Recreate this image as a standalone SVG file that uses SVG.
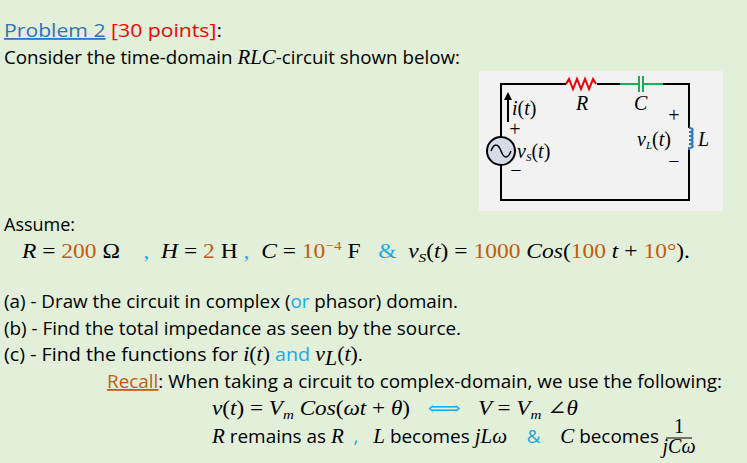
<svg xmlns="http://www.w3.org/2000/svg" width="747" height="463" viewBox="0 0 747 463">
<style>
.t{font-family:"Open Sans","Liberation Sans",sans-serif;font-size:18px;fill:#000}
.m{font-family:"Liberation Serif","DejaVu Serif",serif;font-style:italic;font-size:20px}
.n{font-family:"Liberation Serif","DejaVu Serif",serif;font-size:20px}
.o{fill:#C55A11}.b{fill:#1FA8E8}
.w{fill:none;stroke:#000;stroke-width:2}
</style>
<defs><marker id="ah" viewBox="0 0 10 10" refX="5" refY="5" markerWidth="4" markerHeight="5" orient="auto"><path d="M0,0L10,5L0,10z"/></marker></defs>
<rect width="747" height="463" fill="#E2EFD9"/>
<g id="text">
<text class="t" x="4" y="37" textLength="218" lengthAdjust="spacingAndGlyphs"><tspan fill="#2E75B6" text-decoration="underline">Problem 2</tspan><tspan fill="#FF0000"> [30 points]</tspan>:</text>
<text class="t" x="4" y="64" textLength="456" lengthAdjust="spacingAndGlyphs">Consider the time-domain <tspan class="m" font-size="19">RLC</tspan>-circuit shown below:</text>
<text class="t" x="4" y="231">Assume:</text>
<text class="m" x="22" y="258" textLength="668" lengthAdjust="spacingAndGlyphs">R <tspan font-style="normal">= </tspan><tspan class="o" font-style="normal">200</tspan><tspan font-style="normal"> Ω&#160;&#160;&#160;&#160;</tspan><tspan class="b" font-style="normal">,</tspan>&#160;&#160;H <tspan font-style="normal">= </tspan><tspan class="o" font-style="normal">2</tspan><tspan font-style="normal"> H </tspan><tspan class="b" font-style="normal">,</tspan>&#160;&#160;C <tspan font-style="normal">= </tspan><tspan class="o" font-style="normal">10</tspan><tspan class="o" font-style="normal" font-size="13" dy="-8">−4</tspan><tspan font-style="normal" dy="8"> F&#160;&#160;&#160;</tspan><tspan class="b" font-style="normal">&amp;</tspan>&#160;&#160;v<tspan font-size="13" dy="4">S</tspan><tspan font-style="normal" dy="-4">(</tspan>t<tspan font-style="normal">) = </tspan><tspan class="o" font-style="normal">1000</tspan> Cos<tspan font-style="normal">(</tspan><tspan class="o" font-style="normal">100</tspan> t <tspan font-style="normal">+ </tspan><tspan class="o" font-style="normal">10°</tspan><tspan font-style="normal">).</tspan></text>
<text class="t" x="4" y="308" textLength="454" lengthAdjust="spacingAndGlyphs">(a) - Draw the circuit in complex (<tspan class="b">or</tspan> phasor) domain.</text>
<text class="t" x="4" y="335" textLength="457" lengthAdjust="spacingAndGlyphs">(b) - Find the total impedance as seen by the source.</text>
<text class="t" x="4" y="361" textLength="359" lengthAdjust="spacingAndGlyphs">(c) - Find the functions for <tspan class="m">i</tspan><tspan class="n">(</tspan><tspan class="m">t</tspan><tspan class="n">)</tspan> <tspan class="b">and</tspan> <tspan class="m">v</tspan><tspan class="m" font-size="13" dy="4">L</tspan><tspan class="n" dy="-4">(</tspan><tspan class="m">t</tspan><tspan class="n">)</tspan>.</text>
<text class="t" x="107" y="388" textLength="615" lengthAdjust="spacingAndGlyphs"><tspan class="o" text-decoration="underline">Recall</tspan>: When taking a circuit to complex-domain, we use the following:</text>
<text class="m" x="212" y="415" textLength="366" lengthAdjust="spacingAndGlyphs">v<tspan font-style="normal">(</tspan>t<tspan font-style="normal">) = </tspan>V<tspan font-size="13" dy="4">m</tspan><tspan dy="-4"> Cos</tspan><tspan font-style="normal">(</tspan>ωt <tspan font-style="normal">+ </tspan>θ<tspan font-style="normal">)&#160;&#160;&#160;</tspan><tspan class="b" font-style="normal">⟺</tspan>&#160;&#160;&#160;V <tspan font-style="normal">= </tspan>V<tspan font-size="13" dy="4">m</tspan><tspan font-style="normal" dy="-4"> ∠</tspan>θ</text>
<text class="t" x="212" y="443" textLength="447" lengthAdjust="spacingAndGlyphs"><tspan class="m">R</tspan> remains as <tspan class="m">R</tspan>&#160;&#160;<tspan class="b">,</tspan>&#160;&#160;&#160;<tspan class="m">L</tspan> becomes <tspan class="m">jLω</tspan>&#160;&#160;&#160;&#160;<tspan class="b">&amp;</tspan>&#160;&#160;&#160;&#160;<tspan class="m">C</tspan> becomes</text>
<text class="n" x="679" y="433" font-size="12" text-anchor="middle">1</text>
<line x1="666" y1="438" x2="692" y2="438" stroke="#000" stroke-width="1"/>
<text class="m" x="679" y="453" font-size="12" text-anchor="middle">jCω</text>
</g>
<g id="circuit-bg"><rect x="479" y="71" width="244" height="140" fill="#F2F2F2"/></g>
<g id="connectors">
<path class="w" d="M566,84H501V137M501,165V200H689V150M689,128V84H663M620,84H597"/>
</g>
<g id="resistor"><path d="M566,84l3,-5l4,10l4,-10l4,10l4,-10l4,10l4,-10l3,5" fill="none" stroke="#E00" stroke-width="2"/><text class="m" x="576" y="110" font-size="17">R</text></g>
<g id="capacitor"><path d="M620,84H639M643,84H663M639,76V92M643,76V92" stroke="#1BAE5A" stroke-width="2" fill="none"/><text class="m" x="634" y="110" font-size="17">C</text></g>
<g id="inductor"><path d="M689,128c5,0 5,4 0,4c5,0 5,4 0,4c5,0 5,4 0,4c5,0 5,4 0,4c5,0 5,4 0,4v2" fill="none" stroke="#2E75B6" stroke-width="2"/>
<text class="m" x="698" y="146" font-size="17">L</text>
<text class="n" x="674" y="122" font-size="14" text-anchor="middle">+</text>
<text class="m" x="637" y="146" font-size="17">v<tspan font-size="11" dy="3">L</tspan><tspan font-style="normal" dy="-3">(</tspan>t<tspan font-style="normal">)</tspan></text>
<text class="n" x="674" y="168" font-size="14" text-anchor="middle">−</text></g>
<g id="source"><circle cx="501" cy="151" r="14" fill="#D6DCE5" stroke="#000" stroke-width="2"/><path d="M491,151c3,-8 7,-8 10,0s7,8 10,0" fill="none" stroke="#000" stroke-width="1.5"/>
<text class="m" x="517" y="158" font-size="17">v<tspan font-size="11" dy="3">S</tspan><tspan font-style="normal" dy="-3">(</tspan>t<tspan font-style="normal">)</tspan></text>
<text class="n" x="515" y="136" font-size="14" text-anchor="middle">+</text>
<text class="n" x="516" y="177" font-size="14" text-anchor="middle">−</text></g>
<g id="current"><line x1="508" y1="122" x2="508" y2="96" stroke="#000" stroke-width="2" marker-end="url(#ah)"/>
<text class="m" x="512" y="115" font-size="17">i<tspan font-style="normal">(</tspan>t<tspan font-style="normal">)</tspan></text></g>
</svg>
